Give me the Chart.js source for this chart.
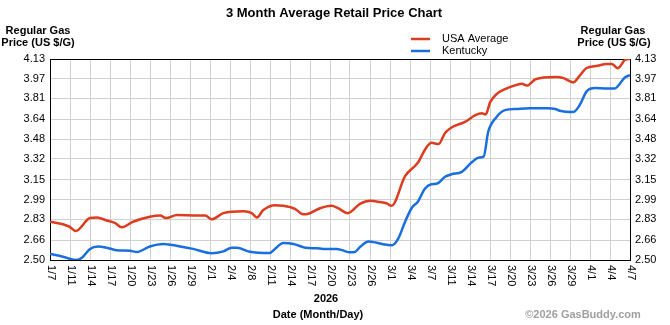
<!DOCTYPE html>
<html>
<head>
<meta charset="utf-8">
<script src="https://cdn.jsdelivr.net/npm/chart.js@4/dist/chart.umd.min.js"></script>
<style>
  html, body { margin: 0; padding: 0; background: #fff; }
  #wrap { width: 670px; height: 325px; position: relative; }
</style>
</head>
<body>
<div id="wrap"><canvas id="c" width="670" height="325"></canvas></div>
<script>
// ---- Data (day offset from 1/7/2026) ----
const xTickLabels = ["1/7","1/11","1/14","1/17","1/20","1/23","1/26","1/29","2/1","2/4","2/8","2/11","2/14","2/17","2/20","2/23","2/26","3/1","3/4","3/7","3/11","3/14","3/17","3/20","3/23","3/26","3/29","4/1","4/4","4/7"];
const yTickValues = [2.50, 2.66, 2.83, 2.99, 3.15, 3.32, 3.48, 3.64, 3.81, 3.97, 4.13];
const yTickLabels = ["2.50","2.66","2.83","2.99","3.15","3.32","3.48","3.64","3.81","3.97","4.13"];
const totalDays = 90;

const usaDays = [0,2,3,4,6.2,7.3,8.8,10.1,11.1,12.9,15.5,17.1,18.0,19.7,22.8,24.1,25.1,26.9,30.0,31.3,32.1,33.1,34.9,36.2,38.0,39.3,40.1,41.9,43.7,44.7,46.2,48.1,49.7,51.2,52.2,53.0,55.1,57.1,58.3,59.2,60.3,61.3,62.3,64.4,66.0,67.0,67.6,68.3,69.3,70.8,71.8,73.2,74.0,75.3,76.6,78.6,79.7,81.2,82.2,83.2,85.0,86.3,87.2,88.1,89.3,90];
const usaPrices = [2.81,2.79,2.77,2.735,2.84,2.845,2.82,2.80,2.765,2.81,2.85,2.86,2.84,2.865,2.86,2.86,2.83,2.88,2.895,2.88,2.845,2.905,2.945,2.94,2.915,2.87,2.875,2.92,2.94,2.92,2.88,2.955,2.98,2.97,2.96,2.94,3.18,3.29,3.405,3.45,3.44,3.53,3.575,3.62,3.675,3.69,3.68,3.78,3.845,3.89,3.91,3.93,3.915,3.965,3.98,3.985,3.975,3.94,3.995,4.055,4.075,4.09,4.09,4.055,4.125,4.13];

const kyDays = [0,2,4,5,6.2,7.5,8.8,10.3,12.4,13.5,15.5,17.6,18.4,20.2,22.2,25.1,26.9,28.2,29.0,31.0,34.1,34.9,36.2,37.8,39.6,41.4,42.4,44.5,45.3,46.6,47.3,48.1,49.4,50.2,51.5,53.0,54.0,55.1,56.1,57.1,58.2,59.2,60.1,61.3,62.3,63.9,65.4,66.5,67.3,68.0,69.3,70.6,72.4,74.5,77.1,78.4,79.1,81.2,82.2,83.3,84.6,86.4,87.6,89.2,90];
const kyPrices = [2.549,2.527,2.50,2.52,2.59,2.61,2.60,2.58,2.575,2.565,2.61,2.63,2.625,2.61,2.59,2.555,2.57,2.60,2.60,2.567,2.557,2.59,2.638,2.63,2.60,2.595,2.59,2.59,2.58,2.562,2.565,2.605,2.65,2.645,2.63,2.62,2.67,2.81,2.92,2.975,3.08,3.115,3.12,3.175,3.195,3.215,3.29,3.33,3.34,3.54,3.66,3.715,3.725,3.73,3.73,3.725,3.71,3.70,3.757,3.87,3.895,3.89,3.89,3.98,4.00];

const seriesNames = ["USA Average", "Kentucky"];
const seriesColors = ["#dd3d1e", "#1a6fde"];

const FONT = "Arial, 'Liberation Sans', sans-serif";

const decor = {
  id: 'decor',
  beforeDatasetsDraw(chart) {
    const {ctx, chartArea: a} = chart;
    ctx.save();
    ctx.strokeStyle = '#000';
    ctx.lineWidth = 1;
    ctx.strokeRect(Math.round(a.left) + 0.5, Math.round(a.top) + 0.5, Math.round(a.right - a.left), Math.round(a.bottom - a.top));
    ctx.restore();
  },
  afterDraw(chart) {
    const {ctx, chartArea: a} = chart;
    const xs = chart.scales.x;
    ctx.save();
    ctx.fillStyle = '#000';
    // Title
    ctx.font = "bold 13px " + FONT;
    ctx.textAlign = 'center';
    ctx.textBaseline = 'middle';
    ctx.fillText("3 Month Average Retail Price Chart", 334, 13);
    // Axis titles
    ctx.font = "bold 11px " + FONT;
    ctx.fillText("Regular Gas", 38, 31);
    ctx.fillText("Price (US $/G)", 38, 43);
    ctx.fillText("Regular Gas", 613, 31);
    ctx.fillText("Price (US $/G)", 614, 43);
    // Legend
    ctx.font = "11px " + FONT;
    ctx.textAlign = 'left';
    seriesNames.forEach((n, i) => {
      const y = 39 + i * 12;
      ctx.strokeStyle = seriesColors[i];
      ctx.lineWidth = 2.5;
      ctx.beginPath();
      ctx.moveTo(411, y);
      ctx.lineTo(430, y);
      ctx.stroke();
      ctx.fillStyle = '#000';
      ctx.fillText(n, 442, y - 0.5);
    });
    // X tick labels rotated clockwise
    ctx.font = "11px " + FONT;
    xs.ticks.forEach((t, i) => {
      const px = xs.getPixelForValue(t.value);
      ctx.save();
      ctx.translate(px + 1, a.bottom + 5);
      ctx.rotate(Math.PI / 2);
      ctx.textAlign = 'left';
      ctx.textBaseline = 'middle';
      ctx.fillText(xTickLabels[i], 0, 0);
      ctx.restore();
    });
    // X axis titles
    ctx.font = "bold 11px " + FONT;
    ctx.textAlign = 'center';
    ctx.textBaseline = 'middle';
    ctx.fillText("2026", 326, 299);
    ctx.fillText("Date (Month/Day)", 318, 315);
    // Copyright
    ctx.fillStyle = '#a0a0a0';
    ctx.fillText("\u00A92026 GasBuddy.com", 583, 315);
    ctx.restore();
  }
};

const yScaleCommon = {
  min: 2.50,
  max: 4.13,
  afterBuildTicks: (axis) => { axis.ticks = yTickValues.map(v => ({ value: v })); },
  ticks: {
    color: '#000',
    font: { family: FONT, size: 11 },
    padding: 5,
    callback: (v, i) => yTickLabels[i]
  },
  grid: { color: '#d0d0d0', drawTicks: false, lineWidth: 1 },
  border: { display: true, color: '#000', width: 1 }
};

new Chart(document.getElementById('c'), {
  type: 'line',
  data: {
    datasets: [
      {
        label: seriesNames[0],
        data: usaDays.map((d, i) => ({ x: d, y: usaPrices[i] })),
        borderColor: seriesColors[0],
        borderWidth: 2.5,
        pointRadius: 0,
        cubicInterpolationMode: 'monotone',
        fill: false
      },
      {
        label: seriesNames[1],
        data: kyDays.map((d, i) => ({ x: d, y: kyPrices[i] })),
        borderColor: seriesColors[1],
        borderWidth: 2.5,
        pointRadius: 0,
        cubicInterpolationMode: 'monotone',
        fill: false
      }
    ]
  },
  options: {
    responsive: false,
    animation: false,
    devicePixelRatio: 1,
    layout: { padding: { top: 59, left: 0, right: 0, bottom: 0 } },
    plugins: { legend: { display: false }, title: { display: false }, tooltip: { enabled: false } },
    scales: {
      x: {
        type: 'linear',
        min: 0,
        max: totalDays,
        afterBuildTicks: (axis) => {
          axis.ticks = xTickLabels.map((_, i) => ({ value: i * totalDays / (xTickLabels.length - 1) }));
        },
        afterFit: (s) => { s.height = 65; },
        ticks: { display: false },
        grid: { color: '#d0d0d0', drawTicks: false, lineWidth: 1 },
        border: { display: true, color: '#000', width: 1 }
      },
      y: Object.assign({}, yScaleCommon, {
        position: 'left',
        afterFit: (s) => { s.width = 50; }
      }),
      y2: Object.assign({}, yScaleCommon, {
        position: 'right',
        afterFit: (s) => { s.width = 40; },
        grid: { display: false, drawTicks: false },
      })
    }
  },
  plugins: [decor]
});
</script>
</body>
</html>
